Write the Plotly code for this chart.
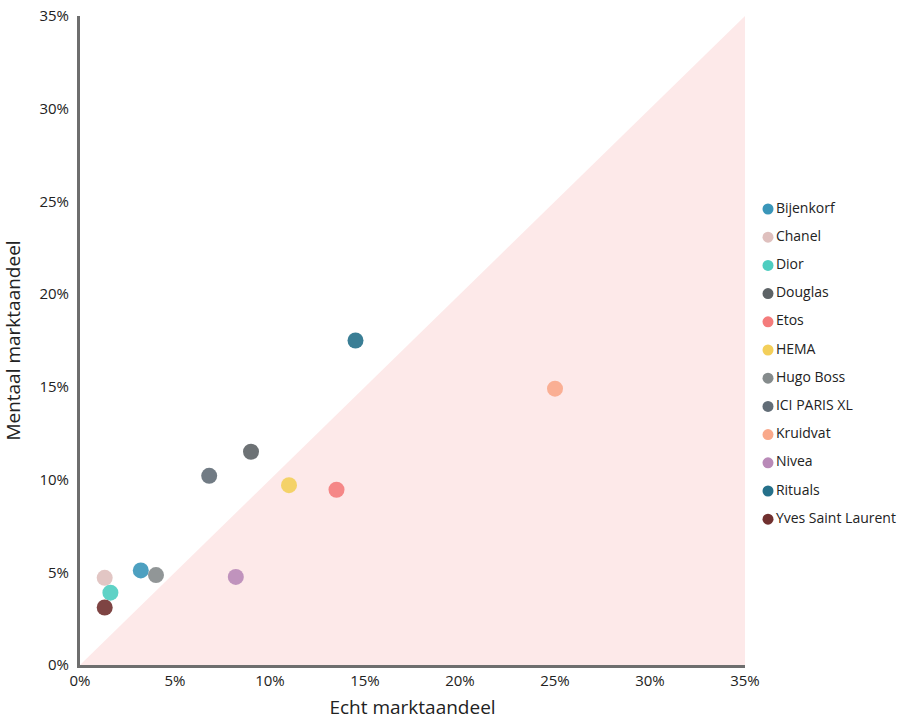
import plotly.graph_objects as go

brands = ["Bijenkorf", "Chanel", "Dior", "Douglas", "Etos", "HEMA", "Hugo Boss",
          "ICI PARIS XL", "Kruidvat", "Nivea", "Rituals", "Yves Saint Laurent"]
echt = [3.2, 1.3, 1.6, 9.0, 13.5, 11.0, 4.0, 6.8, 25.0, 8.2, 14.5, 1.3]
mentaal = [5.1, 4.7, 3.9, 11.5, 9.45, 9.7, 4.85, 10.2, 14.9, 4.75, 17.5, 3.1]
colors = ["#3a96b9", "#dfc0be", "#4ecdc0", "#5d6366", "#f47c7c", "#f3cf5a", "#858b8c",
          "#626d77", "#f9a98b", "#b98ab8", "#25708a", "#70302f"]
ticks = [0, 5, 10, 15, 20, 25, 30, 35]
tick_labels = [f"{t}%" for t in ticks]

FONT = "Open Sans, Noto Sans, sans-serif"
W, H = 900, 720
L, R, T, B = 80, 0, 16, 55
plot_w = W - L - R
main_frac = 665 / plot_w

fig = go.Figure()

# shaded region below diagonal
fig.add_trace(go.Scatter(x=[0, 35, 35, 0], y=[0, 35, 0, 0], fill="toself",
                         fillcolor="#fde9e9", line=dict(width=0), mode="lines",
                         hoverinfo="skip", showlegend=False))

for b, x, y, c in zip(brands, echt, mentaal, colors):
    fig.add_trace(go.Scatter(x=[x], y=[y], mode="markers", name=b,
                             marker=dict(size=16, color=c, opacity=0.9, line=dict(width=0)),
                             cliponaxis=False, showlegend=False))

# custom legend (pixel-space overlay axis)
leg_x0 = 768
leg_y0 = 209
leg_step = 28.2
for i, (b, c) in enumerate(zip(brands, colors)):
    fig.add_trace(go.Scatter(x=[leg_x0], y=[leg_y0 + i * leg_step], mode="markers+text",
                             text=[b], textposition="middle right",
                             textfont=dict(family=FONT, size=14, color="#222"),
                             marker=dict(size=11, color=c),
                             xaxis="x2", yaxis="y2", cliponaxis=False,
                             showlegend=False, hoverinfo="skip"))

fig.update_layout(
    width=W, height=H, margin=dict(l=L, r=R, t=T, b=B),
    paper_bgcolor="white", plot_bgcolor="rgba(0,0,0,0)",
    font=dict(family=FONT, color="#222"),
    showlegend=False,
    xaxis=dict(domain=[0, main_frac], range=[0, 35], tickvals=ticks, ticktext=tick_labels,
               showgrid=False, zeroline=False, showline=True, linecolor="#6e6e6e",
               linewidth=3, ticks="", automargin=False,
               tickfont=dict(size=15, family=FONT, color="#222"),
               title=dict(text="Echt marktaandeel", font=dict(size=19, family=FONT, color="#222"),
                          standoff=15)),
    yaxis=dict(range=[0, 35], tickvals=ticks, ticktext=tick_labels,
               showgrid=False, zeroline=False, showline=True, linecolor="#6e6e6e",
               linewidth=3, ticks="", automargin=False, ticklabelstandoff=5,
               tickfont=dict(size=15, family=FONT, color="#222"),
               title=dict(text="Mentaal marktaandeel", font=dict(size=19, family=FONT, color="#222"),
                          standoff=16)),
    xaxis2=dict(domain=[0, 1], range=[L, W - R], visible=False, anchor="y2"),
    yaxis2=dict(domain=[0, 1], range=[H - B, T], visible=False, anchor="x2"),
)

fig.write_html("out.html")
